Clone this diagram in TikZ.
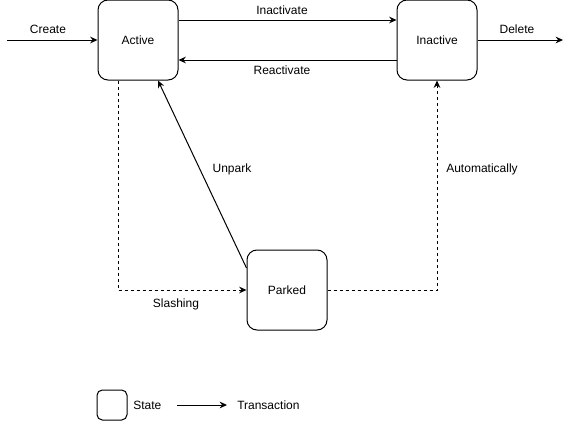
\documentclass[tikz,border=0pt]{standalone}
\usepackage{fontspec}
\setmainfont{Liberation Sans}
\usetikzlibrary{arrows.meta}

\tikzset{
	state/.style={draw, line width=0.75pt, rounded corners=7.5pt, minimum width=60pt, minimum height=60pt, inner sep=0pt},
	trans/.style={line width=0.75pt, -{Stealth[length=5.5pt, width=5pt]}},
	lbl/.style={inner sep=0pt}
}

\begin{document}
\begin{tikzpicture}[x=0.75pt, y=-0.75pt, font=\fontsize{9}{11}\selectfont]

\useasboundingbox (0,0) rectangle (576,421);

\node[state] (active) at (138,40) {Active};
\node[state] (inactive) at (437,40) {Inactive};
\node[state] (parked) at (287,290) {Parked};

\coordinate (create) at (7,40);
\coordinate (delete) at (563,40);

\draw[trans] (create) -- (active);
\node[lbl] (createlbl) at (48,29) {Create};

\draw[trans] ([yshift=15pt]active.east) -- ([yshift=15pt]inactive.west);
\node[lbl] (inactlbl) at (282,10) {Inactivate};

\draw[trans] ([yshift=-15pt]inactive.west) -- ([yshift=-15pt]active.east);
\node[lbl] (reactlbl) at (282,70) {Reactivate};

\draw[trans] (inactive) -- (delete);
\node[lbl] (deletelbl) at (517,29) {Delete};

\draw[trans, dash pattern=on 2.25pt off 2.25pt] ([xshift=-15pt]active.south) |- (parked.west);
\node[lbl] (slashlbl) at (176,304) {Slashing};

\draw[trans] ([yshift=16.5pt]parked.west) -- ([xshift=15pt]active.south);
\node[lbl] (unparklbl) at (232,169) {Unpark};

\draw[trans, dash pattern=on 2.25pt off 2.25pt] (parked.east) -| (inactive.south);
\node[lbl] (autolbl) at (482,169) {Automatically};

\node[state, minimum width=22.5pt, minimum height=22.5pt, rounded corners=4pt] (legstate) at (112,405) {};
\node[lbl, anchor=west] (legstatelbl) at (133,405) {State};

\coordinate (legA) at (177,405);
\coordinate (legB) at (227,405);
\draw[trans] (legA) -- (legB);
\node[lbl, anchor=west] (legtranslbl) at (237,405) {Transaction};

\end{tikzpicture}
\end{document}
